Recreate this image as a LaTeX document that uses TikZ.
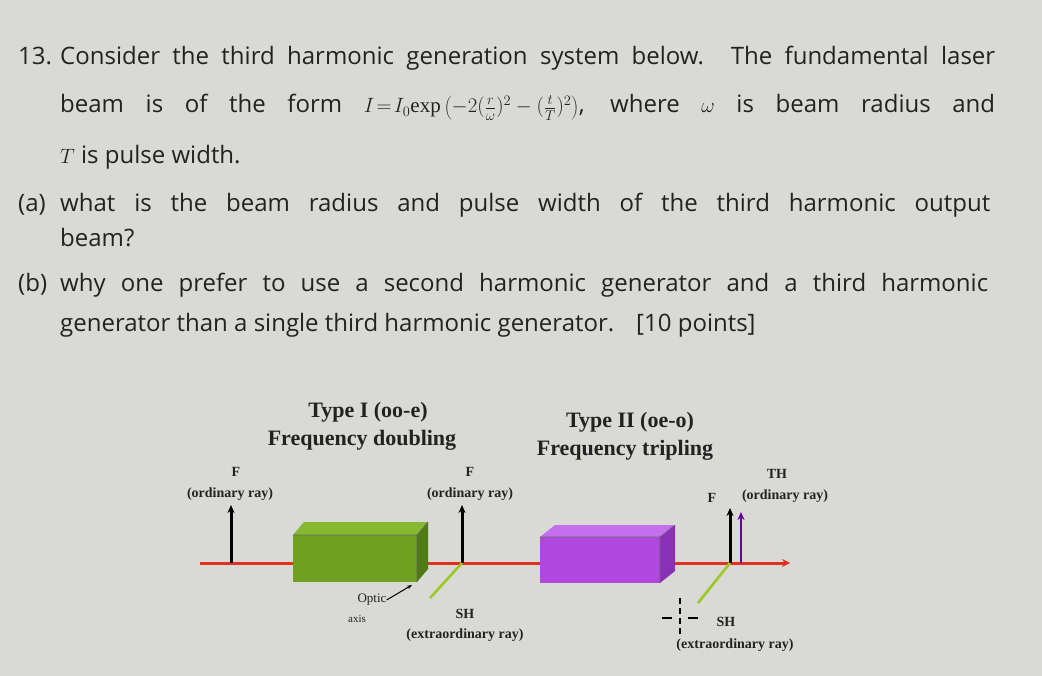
\documentclass[tikz,border=0pt]{standalone}
\usepackage{fontspec}
\setmainfont{Liberation Serif}
\newfontfamily\bodyfont{Open Sans}
\usetikzlibrary{arrows.meta}
\definecolor{bg}{HTML}{D9D9D5}
\definecolor{txt}{HTML}{222222}
\definecolor{gfront}{HTML}{6FA020}
\definecolor{gtop}{HTML}{86B832}
\definecolor{gside}{HTML}{4F7A14}
\definecolor{pfront}{HTML}{B048E0}
\definecolor{ptop}{HTML}{C470EE}
\definecolor{pside}{HTML}{8A30B8}
\definecolor{beam}{HTML}{E03020}
\definecolor{shg}{HTML}{9CC820}
\tikzset{
 line/.style={anchor=base west,inner sep=0,font=\bodyfont\fontsize{24}{26}\selectfont,text=txt},
 title/.style={font=\bfseries\fontsize{22}{24}\selectfont,text=txt,inner sep=0},
 lab/.style={font=\bfseries\fontsize{14}{15}\selectfont,text=txt,inner sep=0},
 vec/.style={-{Stealth[length=8pt,width=7pt]},line width=3pt},
}
\newcommand{\mathsz}{\fontsize{21}{23}\selectfont}
\begin{document}
\begin{tikzpicture}[x=1pt,y=-1pt]
\fill[bg] (0,0) rectangle (1042,676);
\useasboundingbox (0,0) rectangle (1042,676);
% text
\node[line] (n13) at (18,65) {13.};
\node[line] (l1) at (60,65) {\makebox[935pt][s]{Consider the third harmonic generation system below. The fundamental laser}};
\node[line] (l2) at (60,113) {\makebox[935pt][s]{beam is of the form \mbox{\mathsz$I\!=\!I_0\mathrm{exp}\left(-2(\frac{r}{\omega})^2-(\frac{t}{T})^2\right)$}, where \mbox{\mathsz$\omega$} is beam radius and}};
\node[line] (l3) at (60,164) {\mbox{\mathsz$T$} is pulse width.};
\node[line] (na) at (18,212) {(a)};
\node[line] (l4) at (60,212) {\makebox[930pt][s]{what is the beam radius and pulse width of the third harmonic output}};
\node[line] (l5) at (60,247) {beam?};
\node[line] (nb) at (18,292) {(b)};
\node[line] (l6) at (60,292) {\makebox[928pt][s]{why one prefer to use a second harmonic generator and a third harmonic}};
\node[line] (l7) at (60,332) {generator than a single third harmonic generator.\hspace{22pt}[10 points]};
% titles
\node[title] (t1) at (368,412) {Type I (oo-e)};
\node[title] (t2) at (362,440) {Frequency doubling};
\node[title] (t3) at (630,422) {Type II (oe-o)};
\node[title] (t4) at (625,450) {Frequency tripling};
% beam
\coordinate (bs) at (200,563);
\coordinate (be) at (790,563);
\draw[beam,line width=3pt,-{Stealth[length=8pt,width=8pt]}] (bs) -- (be);
% green crystal
\fill[gfront] (293,535) rectangle (417,582);
\fill[gtop] (293,535) -- (304,522) -- (428,522) -- (417,535) -- cycle;
\fill[gside] (417,535) -- (428,522) -- (428,569) -- (417,582) -- cycle;
\draw[black!60,line width=0.6pt] (293,535) -- (417,535) -- (428,522) (417,535) -- (417,582);
% purple crystal
\fill[pfront] (540,537) rectangle (660,583);
\fill[ptop] (540,537) -- (555,525) -- (675,525) -- (660,537) -- cycle;
\fill[pside] (660,537) -- (675,525) -- (675,571) -- (660,583) -- cycle;
\draw[black!60,line width=0.6pt] (540,537) -- (660,537) -- (675,525) (660,537) -- (660,583);
% left F
\coordinate (a1) at (231,563);
\coordinate (a1t) at (231,505);
\draw[vec] (a1) -- (a1t);
\node[lab] (f1) at (236,472) {F};
\node[lab] (o1) at (230,494) {(ordinary ray)};
% middle
\coordinate (a2) at (462,563);
\coordinate (a2t) at (462,505);
\draw[vec] (a2) -- (a2t);
\coordinate (s2) at (430,598);
\draw[shg,line width=2.6pt] (a2) -- (s2);
\node[lab] (f2) at (470,472) {F};
\node[lab] (o2) at (470,494) {(ordinary ray)};
\node[lab] (sh2) at (465,614) {SH};
\node[lab] (e2) at (465,635) {(extraordinary ray)};
\node[lab,font=\fontsize{13}{14}\selectfont] (opt) at (372,600) {Optic};
\node[lab,font=\fontsize{11}{12}\selectfont] (ax) at (357,619) {axis};
\coordinate (optc) at (412,585);
\draw[-{Stealth[length=5pt]},line width=1pt] (opt.east) -- (optc);
% right
\coordinate (a3) at (730,563);
\coordinate (a3t) at (730,508);
\draw[vec] (a3) -- (a3t);
\coordinate (a4) at (741,563);
\coordinate (a4t) at (741,512);
\draw[vec,color=violet!80!blue,line width=2.2pt] (a4) -- (a4t);
\coordinate (s3) at (698,603);
\draw[shg,line width=2.6pt] (a3) -- (s3);
\draw[line width=1.2pt,dash pattern=on 6pt off 4pt] (680,598) -- (680,634);
\draw[line width=1.2pt] (662,618) -- (672,618) (688,618) -- (698,618);
\node[lab] (f3) at (712,498) {F};
\node[lab] (th) at (777,474) {TH};
\node[lab] (o3) at (785,496) {(ordinary ray)};
\node[lab] (sh3) at (726,622) {SH};
\node[lab] (e3) at (735,645) {(extraordinary ray)};
\end{tikzpicture}
\end{document}
